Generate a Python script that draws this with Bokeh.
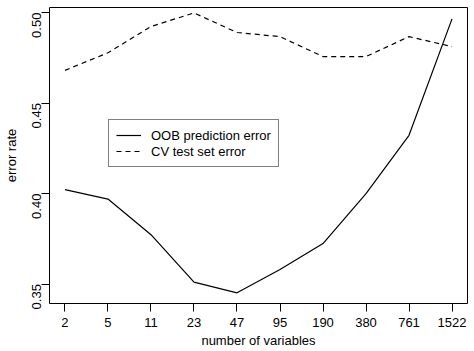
import math
from bokeh.plotting import figure
from bokeh.models import Range1d, FixedTicker, Legend, LegendItem, ColumnDataSource
from bokeh.embed import file_html
from bokeh.resources import INLINE

categories = ["2", "5", "11", "23", "47", "95", "190", "380", "761", "1522"]
oob_error = [0.4022, 0.3970, 0.3773, 0.3511, 0.3452, 0.3581, 0.3724, 0.4000, 0.4322, 0.4965]
cv_error = [0.4681, 0.4778, 0.4923, 0.4998, 0.4890, 0.4867, 0.4757, 0.4757, 0.4867, 0.4812]
y_ticks = [0.35, 0.40, 0.45, 0.50]

idx = list(range(len(categories)))
src = ColumnDataSource(dict(x=idx, oob=oob_error, cv=cv_error))

FONT = "Liberation Sans"

p = figure(width=474, height=351, output_backend="svg", toolbar_location=None,
           min_border_left=47, min_border_right=7, min_border_top=7, min_border_bottom=48,
           x_range=Range1d(-0.36, 9.36), y_range=Range1d(0.3393, 0.5028))

p.grid.visible = False
p.outline_line_color = "black"
p.outline_line_width = 1
p.background_fill_color = "white"
p.border_fill_color = "white"

r1 = p.line("x", "oob", source=src, line_color="black", line_width=1.2)
r2 = p.line("x", "cv", source=src, line_color="black", line_width=1.2, line_dash="5 4")

p.xaxis.ticker = FixedTicker(ticks=idx)
p.xaxis.major_label_overrides = {i: c for i, c in enumerate(categories)}
p.yaxis.ticker = FixedTicker(ticks=y_ticks)
p.yaxis.major_label_overrides = {t: f"{t:.2f}" for t in y_ticks}
p.yaxis.major_label_orientation = math.pi / 2

for ax in (p.xaxis[0], p.yaxis[0]):
    ax.axis_line_color = None
    ax.major_tick_line_color = "black"
    ax.major_tick_out = 8
    ax.major_tick_in = 0
    ax.minor_tick_line_color = None
    ax.major_label_text_font = FONT
    ax.major_label_text_font_size = "13px"
    ax.major_label_text_color = "black"
    ax.axis_label_text_font = FONT
    ax.axis_label_text_font_size = "13px"
    ax.axis_label_text_font_style = "normal"
    ax.axis_label_text_color = "black"

p.xaxis.axis_label = "number of variables"
p.yaxis.axis_label = "error rate"
p.xaxis.major_label_standoff = 6
p.xaxis.axis_label_standoff = 3
p.yaxis.major_label_standoff = 5
p.yaxis.axis_label_standoff = 6

legend = Legend(items=[LegendItem(label="OOB prediction error", renderers=[r1]),
                       LegendItem(label="CV test set error", renderers=[r2])],
                location=(59, 136), margin=0, padding=7, spacing=0,
                glyph_width=25, glyph_height=16, label_height=16, label_standoff=10,
                label_text_font=FONT, label_text_font_size="13px", label_text_color="black",
                border_line_color="black", border_line_width=1,
                background_fill_color="white", background_fill_alpha=1.0)
p.add_layout(legend, "center")

open("out.html", "w").write(file_html(p, INLINE))
